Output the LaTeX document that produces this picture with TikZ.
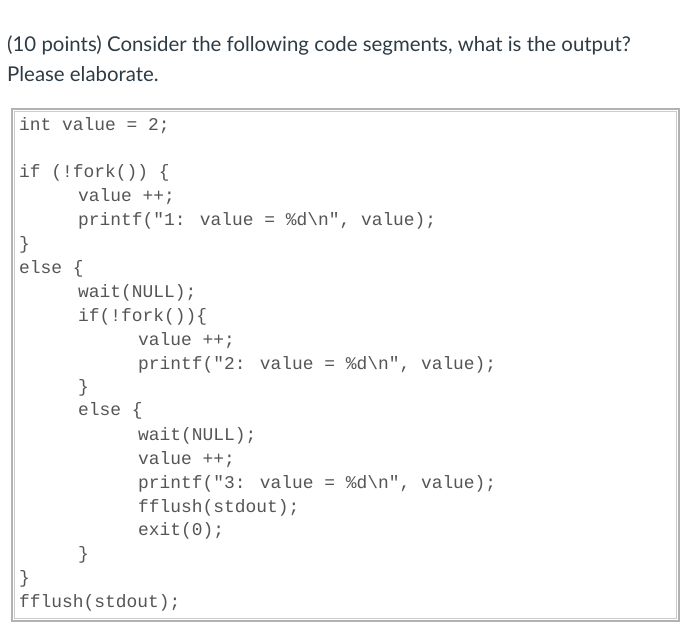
\documentclass[tikz,border=0pt]{standalone}
\usepackage{fontspec}
\setmainfont{Lato}
\newfontfamily\codefont{Liberation Mono}
\definecolor{codegray}{HTML}{555555}
\definecolor{titlecol}{HTML}{2D3B45}
\tikzset{
  code/.style={anchor=west,inner sep=0pt,text=codegray,font=\codefont\fontsize{17.9}{18}\selectfont},
  title/.style={anchor=west,inner sep=0pt,text=titlecol,font=\fontsize{20.4}{22}\selectfont}
}
\begin{document}
\begin{tikzpicture}[x=1pt,y=-1pt]
\useasboundingbox (0,0) rectangle (682,632);
\node[title] (t1) at (7,45) {(10 points) Consider the following code segments, what is the output?};
\node[title] (t2) at (7,74) {Please elaborate.};
\draw[line width=2.5pt,color=gray!60] (12,109) rectangle (679,621);
\draw[line width=0.6pt,color=gray!40] (14.5,111.5) rectangle (676.5,618.5);
\node[code] (l1) at (19,126) {int value = 2;};
\node[code] (l2) at (19,173) {if (!fork()) \{};
\node[code] (l3) at (78,197) {value ++;};
\node[code] (l4) at (78,221) {printf("1: value = \%d\textbackslash n", value);};
\node[code] (l5) at (19,245) {\}};
\node[code] (l6) at (19,269) {else \{};
\node[code] (l7) at (78,293) {wait(NULL);};
\node[code] (l8) at (78,317) {if(!fork())\{};
\node[code] (l9) at (138,341) {value ++;};
\node[code] (l10) at (138,365) {printf("2: value = \%d\textbackslash n", value);};
\node[code] (l11) at (78,388) {\}};
\node[code] (l12) at (78,411) {else \{};
\node[code] (l13) at (138,436) {wait(NULL);};
\node[code] (l14) at (138,460) {value ++;};
\node[code] (l15) at (138,484) {printf("3: value = \%d\textbackslash n", value);};
\node[code] (l16) at (138,508) {fflush(stdout);};
\node[code] (l17) at (138,531) {exit(0);};
\node[code] (l18) at (78,555) {\}};
\node[code] (l19) at (19,579) {\}};
\node[code] (l20) at (19,603) {fflush(stdout);};
\end{tikzpicture}
\end{document}
